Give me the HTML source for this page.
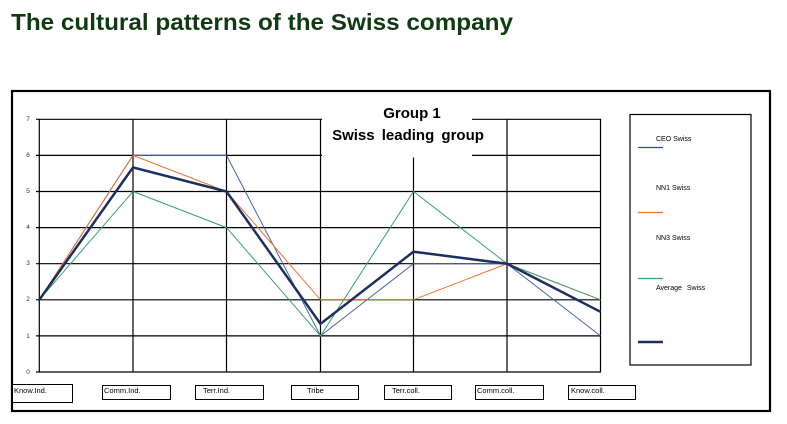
<!DOCTYPE html>
<html><head><meta charset="utf-8"><style>
html,body{margin:0;padding:0;background:#fff;}
svg{display:block;font-family:"Liberation Sans",sans-serif;}
</style></head><body>
<svg width="787" height="424" viewBox="0 0 787 424" xmlns="http://www.w3.org/2000/svg">
<text x="11" y="30" font-size="23" font-weight="bold" fill="#0f3a12" textLength="502" lengthAdjust="spacingAndGlyphs">The cultural patterns of the Swiss company</text>
<rect x="12" y="91" width="758" height="320" fill="none" stroke="#000" stroke-width="2.2"/>
<g stroke="#000" stroke-width="1.2">
<line x1="36" y1="119.3" x2="601" y2="119.3"/>
<line x1="36" y1="155.4" x2="601" y2="155.4"/>
<line x1="36" y1="191.5" x2="601" y2="191.5"/>
<line x1="36" y1="227.6" x2="601" y2="227.6"/>
<line x1="36" y1="263.7" x2="601" y2="263.7"/>
<line x1="36" y1="299.8" x2="601" y2="299.8"/>
<line x1="36" y1="335.9" x2="601" y2="335.9"/>
<line x1="36" y1="372" x2="601" y2="372"/>
<line x1="39.3" y1="119" x2="39.3" y2="372"/>
<line x1="133" y1="119" x2="133" y2="372"/>
<line x1="226.5" y1="119" x2="226.5" y2="372"/>
<line x1="320.5" y1="119" x2="320.5" y2="372"/>
<line x1="413.5" y1="119" x2="413.5" y2="372"/>
<line x1="507" y1="119" x2="507" y2="372"/>
<line x1="600.5" y1="119" x2="600.5" y2="372"/>
</g>
<rect x="322" y="100" width="150" height="57.5" fill="#fff"/>
<text x="412" y="118" font-size="15" font-weight="bold" text-anchor="middle">Group 1</text>
<text x="408" y="140" font-size="15" font-weight="bold" text-anchor="middle" word-spacing="3">Swiss leading group</text>
<g font-size="6.5" fill="#333" text-anchor="middle">
<text x="28" y="121">7</text><text x="28" y="157">6</text><text x="28" y="193">5</text><text x="28" y="229">4</text>
<text x="28" y="265">3</text><text x="28" y="301">2</text><text x="28" y="338">1</text><text x="28" y="374">0</text>
</g>
<g fill="none" stroke-linejoin="miter">
<polyline stroke="#4a64a8" stroke-width="1" points="39.3,299.8 133,155.4 226.5,155.4 320.5,335.9 413.5,263.7 507,263.7 600.5,335.9"/>
<polyline stroke="#f07030" stroke-width="1" points="39.3,299.8 133,155.4 226.5,191.5 320.5,299.8 413.5,299.8 507,263.7 600.5,299.8"/>
<polyline stroke="#3aa070" stroke-width="1" points="39.3,299.8 133,191.5 226.5,227.6 320.5,335.9 413.5,191.5 507,263.7 600.5,299.8"/>
<polyline stroke="#1c3060" stroke-width="2.5" points="39.3,299.8 133,167.4 226.5,191.5 320.5,323.9 413.5,251.7 507,263.7 600.5,311.8"/>
</g>
<rect x="630" y="114.5" width="121" height="250.5" fill="none" stroke="#000" stroke-width="1.2"/>
<g font-size="7" fill="#000">
<text x="656" y="141">CEO Swiss</text>
<text x="656" y="190">NN1 Swiss</text>
<text x="656" y="240">NN3 Swiss</text>
<text x="656" y="290" word-spacing="3">Average Swiss</text>
</g>
<line x1="638" y1="147.5" x2="663" y2="147.5" stroke="#2a4a9a" stroke-width="1.2"/>
<line x1="638" y1="212.5" x2="663" y2="212.5" stroke="#f07030" stroke-width="1.2"/>
<line x1="638" y1="278.5" x2="663" y2="278.5" stroke="#3aa070" stroke-width="1.2"/>
<line x1="638" y1="342" x2="663" y2="342" stroke="#1c3060" stroke-width="2.5"/>
<g fill="#fff" stroke="#000" stroke-width="1">
<rect x="12.5" y="384.5" width="60" height="18"/>
<rect x="102.5" y="385.5" width="68" height="14"/>
<rect x="195.5" y="385.5" width="68" height="14"/>
<rect x="291.5" y="385.5" width="67" height="14"/>
<rect x="384.5" y="385.5" width="67" height="14"/>
<rect x="475.5" y="385.5" width="68" height="14"/>
<rect x="568.5" y="385.5" width="67" height="14"/>
</g>
<g font-size="7.5" fill="#000">
<text x="14" y="393">Know.Ind.</text>
<text x="104" y="393">Comm.Ind.</text>
<text x="203" y="393">Terr.Ind.</text>
<text x="307" y="393">Tribe</text>
<text x="392" y="393">Terr.coll.</text>
<text x="477" y="393">Comm.coll.</text>
<text x="571" y="393">Know.coll.</text>
</g>
</svg>
</body></html>
